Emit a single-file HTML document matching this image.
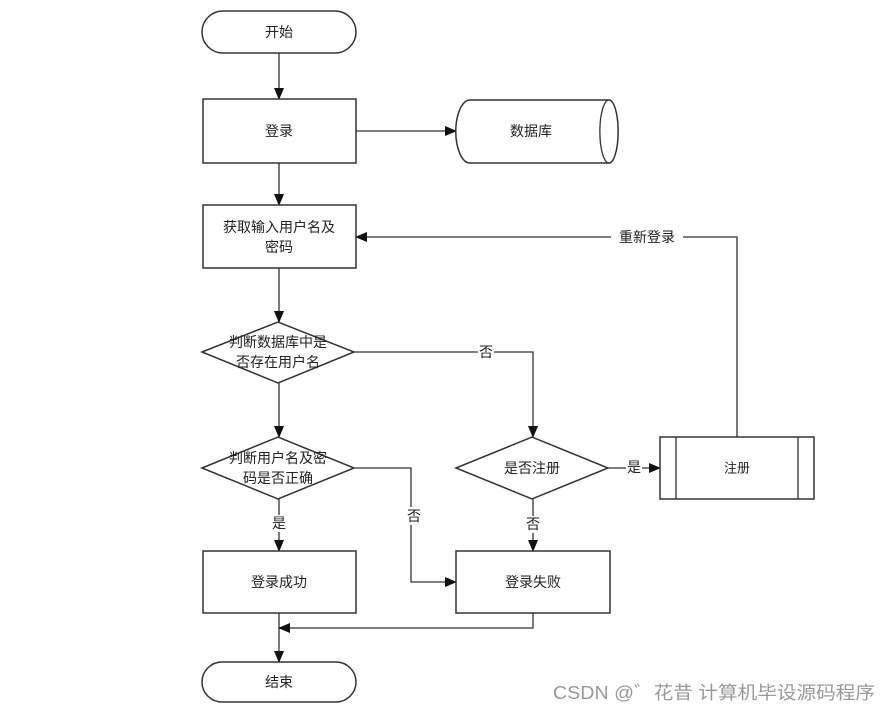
<!DOCTYPE html>
<html><head><meta charset="utf-8"><style>
html,body{margin:0;padding:0;background:#fff;}
svg{display:block;}
text{font-family:"Liberation Sans","Noto Sans CJK SC",sans-serif;font-size:14px;fill:#222;text-anchor:middle;dominant-baseline:central;}
.s{fill:#fff;stroke:#333;stroke-width:1.5;}
.l{fill:none;stroke:#333;stroke-width:1.3;}
.lb{fill:#fff;}
</style></head><body>
<svg width="891" height="714" viewBox="0 0 891 714">
<defs><marker id="a" markerWidth="12" markerHeight="10" refX="11" refY="5" orient="auto" markerUnits="userSpaceOnUse"><path d="M0,0 L12,5 L0,10 z" fill="#111"/></marker></defs>
<path class="l" d="M279,53 V99" marker-end="url(#a)"/>
<path class="l" d="M356,131 H456" marker-end="url(#a)"/>
<path class="l" d="M279,163 V205" marker-end="url(#a)"/>
<path class="l" d="M279,268 V322" marker-end="url(#a)"/>
<path class="l" d="M279,383 V437" marker-end="url(#a)"/>
<path class="l" d="M279,499 V551" marker-end="url(#a)"/>
<path class="l" d="M279,613 V662" marker-end="url(#a)"/>
<path class="l" d="M533,613 V628 H279" marker-end="url(#a)"/>
<path class="l" d="M354,352 H533 V437" marker-end="url(#a)"/>
<path class="l" d="M354,468 H411 V582 H456" marker-end="url(#a)"/>
<path class="l" d="M533,499 V551" marker-end="url(#a)"/>
<path class="l" d="M608,468 H660" marker-end="url(#a)"/>
<path class="l" d="M737,437 V237 H356" marker-end="url(#a)"/>
<rect class="s" x="202" y="11" width="154" height="42" rx="21"/>
<rect class="s" x="203" y="99" width="153" height="64"/>
<path class="s" d="M470,100 H609 A9,31 0 0 1 609,163 H470 A14,31 0 0 1 470,100 Z"/>
<path class="l" d="M609,100 A9,31 0 0 0 609,163"/>
<rect class="s" x="203" y="205" width="153" height="63"/>
<polygon class="s" points="202,352 278,322 354,352 278,383"/>
<polygon class="s" points="202,468 278,437 354,468 278,499"/>
<polygon class="s" points="456,468 532,437 608,468 532,499"/>
<rect class="s" x="660" y="437" width="154" height="62"/>
<path class="l" d="M676,437 V499 M798,437 V499"/>
<rect class="s" x="203" y="551" width="153" height="62"/>
<rect class="s" x="456" y="551" width="154" height="62"/>
<rect class="s" x="202" y="662" width="154" height="40" rx="20"/>
<text x="279" y="32">开始</text>
<text x="279" y="131">登录</text>
<text x="531" y="131">数据库</text>
<text x="279" y="227">获取输入用户名及</text>
<text x="279" y="247">密码</text>
<text x="278" y="342">判断数据库中是</text>
<text x="278" y="362">否存在用户名</text>
<text x="278" y="458">判断用户名及密</text>
<text x="278" y="478">码是否正确</text>
<text x="532" y="468">是否注册</text>
<text x="737" y="468" style="font-size:13px">注册</text>
<text x="279" y="582">登录成功</text>
<text x="533" y="582">登录失败</text>
<text x="279" y="682">结束</text>
<rect class="lb" x="611" y="229" width="72" height="17"/><text x="647" y="237">重新登录</text>
<rect class="lb" x="478" y="344" width="16" height="17"/><text x="486" y="352">否</text>
<rect class="lb" x="406" y="507" width="16" height="18"/><text x="414" y="516">否</text>
<rect class="lb" x="271" y="515" width="16" height="17"/><text x="279" y="523">是</text>
<rect class="lb" x="525" y="516" width="16" height="17"/><text x="533" y="524">否</text>
<rect class="lb" x="626" y="459" width="16" height="17"/><text x="634" y="467">是</text>
<text x="553" y="693" textLength="322" lengthAdjust="spacingAndGlyphs" style="font-size:18px;fill:#999;text-anchor:start">CSDN @゛花昔  计算机毕设源码程序</text>
</svg>
</body></html>
